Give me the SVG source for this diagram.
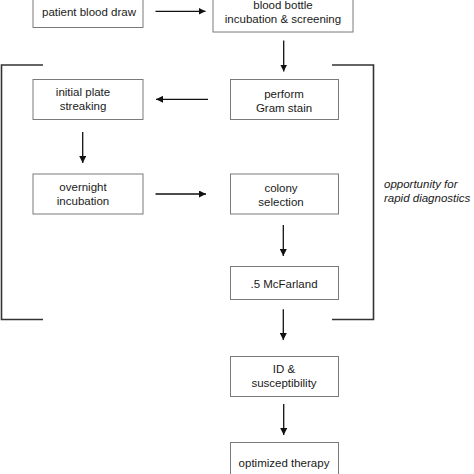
<svg xmlns="http://www.w3.org/2000/svg" width="474" height="474" viewBox="0 0 474 474">
<style>
.box{fill:#fff;stroke:#7a7a7a;stroke-width:1}
.t{font-family:"Liberation Sans",Arial,sans-serif;font-size:11.5px;fill:#1a1a1a;text-anchor:middle}
.it{font-family:"Liberation Sans",Arial,sans-serif;font-size:11.5px;fill:#1a1a1a;font-style:italic}
.c{stroke:#111;stroke-width:1.3;fill:none;marker-end:url(#ah)}
.br{stroke:#333;stroke-width:1.6;fill:none}
</style>
<defs>
<marker id="ah" viewBox="0 0 10 10" refX="10" refY="5" markerWidth="7" markerHeight="7" markerUnits="userSpaceOnUse" orient="auto">
<path d="M0,0 L10,5 L0,10 Z" fill="#111"/>
</marker>
</defs>
<rect width="474" height="474" fill="#fff"/>
<g id="n1"><rect class="box" x="33" y="-4" width="110" height="31.5"/><text class="t" x="89" y="16">patient blood draw</text></g>
<g id="n2"><rect class="box" x="213" y="-4" width="140" height="36"/><text class="t" x="283" y="9">blood bottle</text><text class="t" x="283" y="23">incubation &amp; screening</text></g>
<g id="n3"><rect class="box" x="33" y="79.5" width="110" height="40"/><text class="t" x="83" y="96">initial plate</text><text class="t" x="83" y="110">streaking</text></g>
<g id="n4"><rect class="box" x="230.5" y="79.5" width="108" height="40"/><text class="t" x="284" y="98">perform</text><text class="t" x="284" y="112">Gram stain</text></g>
<g id="n5"><rect class="box" x="33" y="174" width="110" height="40"/><text class="t" x="83" y="191">overnight</text><text class="t" x="83" y="205">incubation</text></g>
<g id="n6"><rect class="box" x="230.5" y="174" width="108" height="40"/><text class="t" x="281" y="192">colony</text><text class="t" x="281" y="206">selection</text></g>
<g id="n7"><rect class="box" x="230.5" y="266.5" width="108" height="33"/><text class="t" x="284" y="287.5">.5 McFarland</text></g>
<g id="n8"><rect class="box" x="230.5" y="356.5" width="108" height="40"/><text class="t" x="284" y="372.5">ID &amp;</text><text class="t" x="284" y="386.5">susceptibility</text></g>
<g id="n9"><rect class="box" x="230.5" y="442.5" width="108" height="40"/><text class="t" x="284" y="467">optimized therapy</text></g>
<g id="bracket">
<path class="br" d="M43,65 H1.5 V319.5 H43"/>
<path class="br" d="M332,65 H373.5 V319.5 H332"/>
<text class="it" x="384" y="187.5">opportunity for</text>
<text class="it" x="384" y="201.5">rapid diagnostics</text>
</g>
<g id="connectors">
<path class="c" d="M155.5,11.3 H205.5"/>
<path class="c" d="M283.7,40.5 V71.5"/>
<path class="c" d="M208,99.3 H156"/>
<path class="c" d="M82.7,132 V163"/>
<path class="c" d="M155.5,194 H206"/>
<path class="c" d="M283.3,225 V256"/>
<path class="c" d="M283.3,309.3 V340"/>
<path class="c" d="M283.7,404 V435"/>
</g>
</svg>
